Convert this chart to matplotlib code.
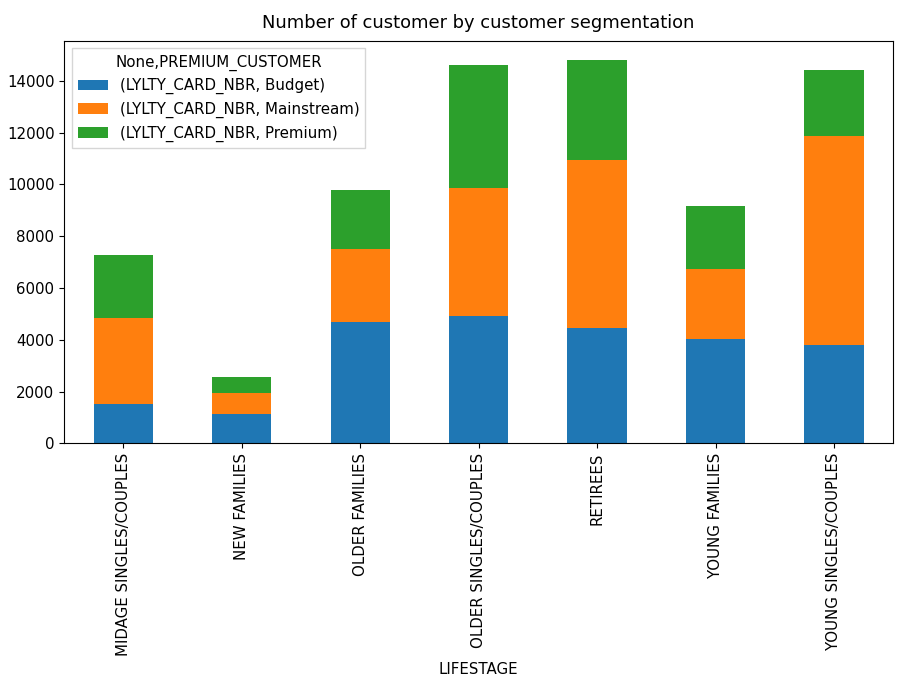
import pandas as pd
import matplotlib.pyplot as plt

# Customer counts per lifestage and premium segment
lifestages = ['MIDAGE SINGLES/COUPLES', 'NEW FAMILIES', 'OLDER FAMILIES',
              'OLDER SINGLES/COUPLES', 'RETIREES', 'YOUNG FAMILIES',
              'YOUNG SINGLES/COUPLES']
budget = [1504, 1112, 4675, 4929, 4454, 4017, 3779]
mainstream = [3340, 849, 2831, 4930, 6479, 2728, 8088]
premium = [2431, 588, 2273, 4750, 3872, 2433, 2574]

plt.rcParams['font.size'] = 10.8

df = pd.DataFrame({
    '(LYLTY_CARD_NBR, Budget)': budget,
    '(LYLTY_CARD_NBR, Mainstream)': mainstream,
    '(LYLTY_CARD_NBR, Premium)': premium,
}, index=pd.Index(lifestages, name='LIFESTAGE'))

fig = plt.figure(figsize=(9.17, 6.83), dpi=100)
ax = fig.add_axes([0.070, 0.351, 0.904, 0.589])
df.plot(kind='bar', stacked=True, ax=ax,
        color=['#1f77b4', '#ff7f0e', '#2ca02c'])
ax.set_title('Number of customer by customer segmentation', fontsize=12.9, pad=9)
ax.set_xlabel('LIFESTAGE')
leg = ax.legend(title='None,PREMIUM_CUSTOMER', loc='upper left', fancybox=False,
                title_fontsize=10.8)
fig.savefig('out.png', dpi=100)
